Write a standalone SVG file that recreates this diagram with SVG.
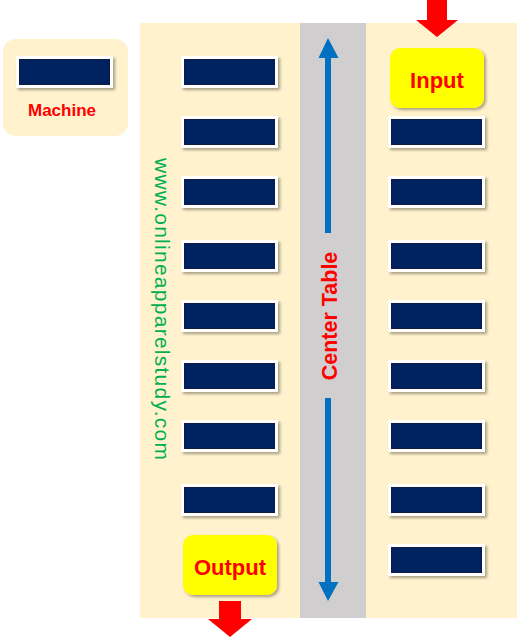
<svg xmlns="http://www.w3.org/2000/svg" width="517" height="640" viewBox="0 0 517 640">
<defs>
<filter id="sh" x="-20%" y="-30%" width="150%" height="180%">
<feDropShadow dx="2" dy="2" stdDeviation="1.5" flood-color="#000" flood-opacity="0.35"/>
</filter>
<g id="mach">
<rect x="0" y="0" width="97" height="32" fill="#ffffff"/>
<rect x="3.5" y="3.5" width="90" height="25" fill="#002060" stroke="#0a1a40" stroke-width="1"/>
</g>
</defs>
<style>
.lbl{font-family:"Liberation Sans",Arial,sans-serif;font-weight:bold;fill:#ff0000;text-anchor:middle}
.m{filter:url(#sh)}
.box{fill:#ffff00;filter:url(#sh)}
</style>
<rect width="517" height="640" fill="#ffffff"/>
<g id="floor">
<rect x="140" y="23" width="377" height="595" fill="#fff2cc"/>
<rect x="300" y="23" width="66" height="595" fill="#d0cece"/>
</g>
<g id="legend">
<rect x="3" y="39" width="125" height="97" rx="13" fill="#fff2cc"/>
<use href="#mach" x="16" y="56" class="m"/>
<text x="62" y="116" class="lbl" font-size="17">Machine</text>
</g>
<g id="left-machines">
<use href="#mach" x="181" y="56" class="m"/>
<use href="#mach" x="181" y="116" class="m"/>
<use href="#mach" x="181" y="176" class="m"/>
<use href="#mach" x="181" y="240" class="m"/>
<use href="#mach" x="181" y="300" class="m"/>
<use href="#mach" x="181" y="360" class="m"/>
<use href="#mach" x="181" y="420" class="m"/>
<use href="#mach" x="181" y="484" class="m"/>
</g>
<g id="right-machines">
<use href="#mach" x="388" y="116" class="m"/>
<use href="#mach" x="388" y="176" class="m"/>
<use href="#mach" x="388" y="240" class="m"/>
<use href="#mach" x="388" y="300" class="m"/>
<use href="#mach" x="388" y="360" class="m"/>
<use href="#mach" x="388" y="420" class="m"/>
<use href="#mach" x="388" y="484" class="m"/>
<use href="#mach" x="388" y="544" class="m"/>
</g>
<g id="input">
<rect x="390" y="48" width="94" height="60" rx="10" class="box"/>
<text x="437" y="88" class="lbl" font-size="22">Input</text>
</g>
<g id="output">
<rect x="183" y="535" width="94" height="60" rx="10" class="box"/>
<text x="230" y="575" class="lbl" font-size="22">Output</text>
</g>
<g id="center-table">
<text transform="translate(337,316) rotate(-90)" x="0" y="0" class="lbl" font-size="21.5">Center Table</text>
</g>
<g id="website">
<text transform="translate(155,158) rotate(90)" x="0" y="0" font-family="'Liberation Sans',Arial,sans-serif" font-size="21" fill="#00b050" textLength="302" lengthAdjust="spacing">www.onlineapparelstudy.com</text>
</g>
<g id="connectors">
<rect x="325" y="57" width="6" height="176" fill="#0070c0"/>
<polygon points="328,38 338.5,58 318.5,58" fill="#0070c0"/>
<rect x="325" y="398" width="6" height="185" fill="#0070c0"/>
<polygon points="328,601 338.5,582 318.5,582" fill="#0070c0"/>
<polygon points="427,0 447,0 447,20 458,20 437,37 416,20 427,20" fill="#ff0000"/>
<polygon points="219,601 241,601 241,619 252,619 230,637 208,619 219,619" fill="#ff0000"/>
</g>
</svg>
